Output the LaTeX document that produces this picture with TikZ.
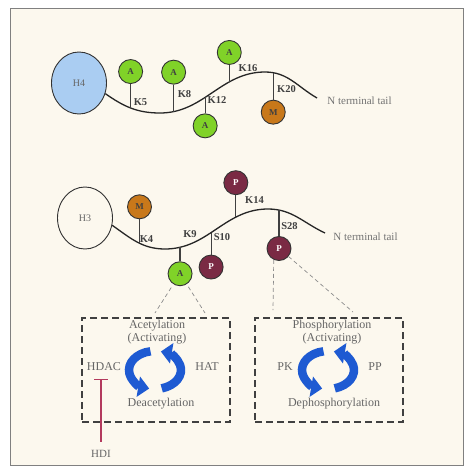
\documentclass[tikz,border=0pt]{standalone}
\usepackage{fontspec}
\setmainfont{Liberation Serif}
\usetikzlibrary{positioning,arrows.meta,shapes.geometric}

\definecolor{bgcream}{HTML}{FCF8EE}
\definecolor{acgreen}{HTML}{80D228}
\definecolor{mebrown}{HTML}{C8781A}
\definecolor{phmaroon}{HTML}{7A2A44}
\definecolor{hfourblue}{HTML}{AACDF2}
\definecolor{cycblue}{HTML}{1E5AD2}
\definecolor{hdired}{HTML}{B33A5E}

\begin{document}
\begin{tikzpicture}[x=1pt, y=1pt,
    histone/.style={ellipse, draw=black!80, line width=0.9pt, minimum width=55pt, minimum height=62pt, font=\fontsize{10}{12}\selectfont, text=black!60},
    bub/.style={circle, draw=black!80, line width=0.9pt, minimum size=24pt, inner sep=0pt, font=\fontsize{9}{10}\selectfont\bfseries},
    acet/.style={bub, fill=acgreen, text=black!75},
    meth/.style={bub, fill=mebrown, text=black!75},
    phos/.style={bub, fill=phmaroon, text=white},
    tail/.style={line width=1.3pt, black!85},
    tick/.style={line width=1.2pt, black!75},
    site/.style={font=\fontsize{10.5}{12}\selectfont\bfseries, text=black!75, inner sep=0pt},
    tailtext/.style={font=\fontsize{11}{12}\selectfont, text=black!55},
    boxtext/.style={font=\fontsize{12}{13}\selectfont, text=black!60, align=center},
    procbox/.style={draw=black!75, line width=1.4pt, dash pattern=on 7pt off 4pt, minimum width=148pt, minimum height=104pt},
    guide/.style={draw=black!45, line width=0.7pt, dash pattern=on 4pt off 3pt},
    cycarrow/.style={cycblue, line width=8.5pt, -{Triangle[width=20pt,length=11pt]}}
]
\path[use as bounding box] (0,0) rectangle (474,-474);
% frame
\draw[fill=bgcream, draw=black!50, line width=1pt] (10,-8) rectangle (463,-465);

% H4 tail
\node[histone, fill=hfourblue] (h4) at (79,-83) {H4};
\draw[tail] (h4.-22) to[out=-35,in=180] coordinate[pos=0.49] (k5) (160,-113)
    to[out=0,in=180] coordinate[pos=0.11] (k8) coordinate[pos=0.42] (k12) coordinate[pos=0.68] (k16) (265,-72)
    to[out=0,in=150] coordinate[pos=0.13] (k20) (317,-98);

% H4 marks
\node[acet, above=24pt of k5] (a5) {A};
\node[acet, above=27pt of k8] (a8) {A};
\node[acet, below=16pt of k12] (a12) {A};
\node[acet, above=17pt of k16] (a16) {A};
\node[meth, below=27pt of k20] (m20) {M};
\draw[tick] (k5) -- (a5);
\draw[tick] (k8) -- (a8);
\draw[tick] (k12) -- (a12);
\draw[tick] (k16) -- (a16);
\draw[tick] (k20) -- (m20);

\node[site] (k5lab) at (140.5,-102.5) {K5};
\node[site] (k8lab) at (184.5,-94.5) {K8};
\node[site] (k12lab) at (217,-100.5) {K12};
\node[site] (k16lab) at (248,-68.5) {K16};
\node[site] (k20lab) at (286.5,-89.5) {K20};
\node[tailtext] (tailfour) at (359.5,-101) {N terminal tail};

% H3 tail
\node[histone, fill=bgcream] (h3) at (85,-218) {H3};
\draw[tail] (h3.-15) to[out=-35,in=180] coordinate[pos=0.55] (k4) (165,-249)
    to[out=0,in=180] coordinate[pos=0.125] (k9) coordinate[pos=0.44] (s10) coordinate[pos=0.71] (k14) (268,-209)
    to[out=0,in=155] coordinate[pos=0.165] (s28) (325,-233);

% H3 marks
\node[meth, above=24pt of k4] (m4) {M};
\node[acet, below=14pt of k9] (a9) {A};
\node[phos, below=22pt of s10] (p10) {P};
\node[phos, above=22pt of k14] (p14) {P};
\node[phos, below=26pt of s28] (p28) {P};
\draw[tick] (k4) -- (m4);
\draw[tick] (k9) -- (a9);
\draw[tick] (s10) -- (p10);
\draw[tick] (k14) -- (p14);
\draw[tick] (s28) -- (p28);

\node[site] (k4lab) at (146.5,-239.5) {K4};
\node[site] (k9lab) at (190,-234) {K9};
\node[site] (s10lab) at (222,-237.5) {S10};
\node[site] (k14lab) at (254.5,-200.5) {K14};
\node[site] (s28lab) at (289.5,-226) {S28};
\node[tailtext] (tailthree) at (365.5,-237) {N terminal tail};

% process boxes
\node[procbox] (acbox) at (156,-370) {};
\node[procbox] (phbox) at (329,-370) {};

\coordinate (acL) at (155,-313);
\coordinate (acR) at (205,-313);
\coordinate (phL) at (273,-310);
\coordinate (phR) at (353,-312);
\draw[guide, shorten <=4pt] (a9) -- (acL);
\draw[guide, shorten <=3pt] (a9) -- (acR);
\draw[guide] (p28.-115) -- (phL);
\draw[guide] (p28.-40) -- (phR);

% acetylation cycle
\node[boxtext] (actitle) at (157,-332.5) {Acetylation\\(Activating)};
\node[boxtext] (hdac) at (104,-367) {HDAC};
\node[boxtext] (hat) at (207,-367) {HAT};
\node[boxtext] (deac) at (161,-404) {Deacetylation};
\coordinate (accyc) at (155,-370);
\draw[cycarrow] (accyc) ++(100:26 and 19) arc[start angle=100, end angle=257, x radius=26, y radius=19];
\draw[cycarrow] (accyc) ++(285:26 and 19) arc[start angle=285, end angle=437, x radius=26, y radius=19];

% phosphorylation cycle
\node[boxtext] (phtitle) at (332,-332.5) {Phosphorylation\\(Activating)};
\node[boxtext] (pk) at (285,-367) {PK};
\node[boxtext] (pp) at (375,-367) {PP};
\node[boxtext] (deph) at (334,-404) {Dephosphorylation};
\coordinate (phcyc) at (328,-370);
\draw[cycarrow] (phcyc) ++(100:26 and 19) arc[start angle=100, end angle=257, x radius=26, y radius=19];
\draw[cycarrow] (phcyc) ++(285:26 and 19) arc[start angle=285, end angle=437, x radius=26, y radius=19];

% inhibitor
\node[boxtext, font=\fontsize{11}{12}\selectfont] (hdi) at (101,-454) {HDI};
\coordinate (hdacbar) at (101,-379);
\draw[hdired, line width=1.3pt, -{Bar[width=14pt]}, shorten <=5pt] (hdi) -- (hdacbar);
\end{tikzpicture}
\end{document}
